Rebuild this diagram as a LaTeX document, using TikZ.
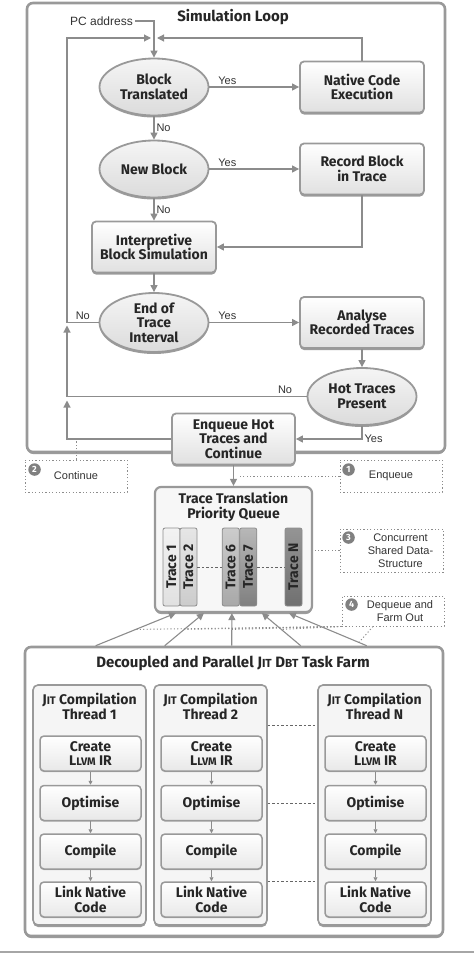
\documentclass[tikz,border=0pt]{standalone}
\usepackage{fontspec}
\usepackage{graphicx}
\setmainfont{Fira Sans}
\newfontfamily\lblfamily{Liberation Sans}
\usetikzlibrary{arrows.meta,shapes.geometric,shadows,calc,positioning}

\newcommand\nodefont{\bfseries\fontsize{14}{14.5}\selectfont}
\newcommand\looptitlefont{\bfseries\fontsize{15}{17}\selectfont}
\newcommand\fsc[1]{\scalebox{0.78}{#1}}

\begin{document}
\begin{tikzpicture}[x=1pt,y=-1pt,
    >={Triangle[length=7pt,width=7pt]},
    flow/.style={->,draw=black!45,line width=1.1pt},
    smallflow/.style={-{Triangle[length=4pt,width=4pt]},draw=black!45,line width=0.8pt},
    note/.style={draw=black!45,dash pattern=on 1.2pt off 2.2pt,line width=0.9pt},
    gapline/.style={draw=black!60,dash pattern=on 2.5pt off 2pt,line width=0.9pt},
    lbl/.style={font=\lblfamily\fontsize{11}{13}\selectfont,text=black!80,inner sep=2pt},
    shadowed/.style={drop shadow={shadow xshift=0pt,shadow yshift=-2pt,opacity=.55,fill=black!70}},
    proc/.style={rectangle,rounded corners=4pt,draw=black!40,line width=1.8pt,top color=white,bottom color=black!12,
        minimum width=124pt,minimum height=51pt,inner sep=2pt,align=center,font=\nodefont,text=black!85,shadowed},
    decide/.style={ellipse,draw=black!40,line width=1.8pt,top color=black!4,bottom color=black!14,
        minimum width=109pt,minimum height=57pt,inner sep=0pt,align=center,font=\nodefont,text=black!85,shadowed},
    loopframe/.style={rectangle,rounded corners=6pt,draw=black!40,line width=2.6pt,fill=white,shadowed},
    queuebox/.style={rectangle,rounded corners=6pt,draw=black!40,line width=2.2pt,fill=black!3,shadowed},
    tracebar/.style={rectangle,rotate=90,rounded corners=2pt,draw=black!45,line width=.8pt,
        minimum width=78pt,minimum height=17pt,inner sep=0pt,font=\nodefont,text=black!85},
    notebox/.style={note,minimum width=102pt,minimum height=32pt,align=center,
        font=\lblfamily\fontsize{11}{13}\selectfont,text=black!80},
    notetext/.style={align=center,font=\lblfamily\fontsize{11}{13}\selectfont,text=black!80,inner sep=0pt},
    badge/.style={circle,fill=black!50,text=white,font=\bfseries\fontsize{9}{9}\selectfont,inner sep=0pt,minimum size=12.5pt},
    thread/.style={rectangle,rounded corners=5pt,draw=black!40,line width=1.6pt,fill=black!4,
        minimum width=113pt,minimum height=240pt,shadowed},
    stage/.style={rectangle,rounded corners=4pt,draw=black!40,line width=1.5pt,top color=white,bottom color=black!9,
        minimum width=101pt,minimum height=35pt,inner sep=1pt,align=center,font=\nodefont,text=black!85,
        drop shadow={shadow xshift=0pt,shadow yshift=-1.2pt,opacity=.4,fill=black!60}}]
    \useasboundingbox (0,0) rectangle (474,953);

    % simulation loop
    \node[loopframe,minimum width=418pt,minimum height=449pt] (simloop) at (236,227.5) {};
    \node[font=\looptitlefont,text=black!85] (simtitle) at (233,17) {Simulation Loop};

    \node[lbl,font=\lblfamily\fontsize{12}{14}\selectfont,anchor=east] (pcaddr) at (135,21) {PC address};
    \node[decide] (translated) at (154,87) {Block\\Translated};
    \node[proc] (native) at (362,87) {Native Code\\Execution};
    \node[decide] (newblock) at (154,169) {New Block};
    \node[proc] (record) at (362,169) {Record Block\\in Trace};
    \node[proc] (interp) at (154,247) {Interpretive\\Block Simulation};
    \node[decide,minimum height=59pt] (endtrace) at (154,322.5) {End of\\Trace\\Interval};
    \node[proc] (analyse) at (362,322.5) {Analyse\\Recorded Traces};
    \node[decide] (hottraces) at (362,396.5) {Hot Traces\\Present};
    \node[proc,minimum width=123pt] (enqueue) at (233.5,439) {Enqueue Hot\\Traces and\\Continue};

    \coordinate (merge) at (154,38);
    \coordinate (rail) at (67,38);
    \coordinate (ret1) at (endtrace.west -| rail);
    \coordinate (ret2) at (hottraces.west -| rail);

    \draw[flow] (pcaddr.east) -| (translated.north);
    \draw[flow] (native.north) |- ([xshift=3pt]merge);
    \draw[flow] (endtrace.west) -- node[lbl,above]{No} (ret1) -- (rail) -- ([xshift=-3pt]merge);
    \draw[flow] (translated) -- node[lbl,above,pos=.2]{Yes} (native);
    \draw[flow] (translated) -- node[lbl,right]{No} (newblock);
    \draw[flow] (newblock) -- node[lbl,above,pos=.2]{Yes} (record);
    \draw[flow] (newblock) -- node[lbl,right]{No} (interp);
    \draw[flow] (record.south) |- (interp.east);
    \draw[flow] (interp) -- (endtrace);
    \draw[flow] (endtrace) -- node[lbl,above,pos=.2]{Yes} (analyse);
    \draw[flow] (analyse) -- (hottraces);
    \draw[flow] (hottraces.west) -- node[lbl,above,pos=.09]{No} (ret2) -- ([yshift=-3pt]ret1);
    \draw[flow] (hottraces.south) |- node[lbl,right,pos=.5]{Yes} (enqueue.east);
    \draw[flow] (enqueue.west) -- (enqueue.west -| rail) -- ([yshift=-4pt]ret2);

    % numbered notes
    \node[notebox] (contbox) at (76,476) {Continue};
    \node[notebox] (enqbox) at (391,476) {Enqueue};
    \node[notebox,minimum width=103pt,minimum height=43pt] (concbox) at (391.5,550.5) {};
    \node[notetext] (conctext) at ([xshift=9pt]concbox.center) {Concurrent\\Shared Data-\\Structure};
    \node[notebox,minimum height=30pt] (deqbox) at (393,611) {};
    \node[notetext] (deqtext) at ([xshift=7pt]deqbox.center) {Dequeue and\\Farm Out};
    \node[badge] (badge2) at ([shift={(10,10)}]contbox.north west) {2};
    \node[badge] (badge1) at ([shift={(9,10)}]enqbox.north west) {1};
    \node[badge] (badge3) at ([shift={(9,9)}]concbox.north west) {3};
    \node[badge] (badge4) at ([shift={(10,9)}]deqbox.north west) {4};

    % priority queue
    \node[queuebox,minimum width=157pt,minimum height=125pt] (queue) at (233.5,549.5) {};
    \node[font=\nodefont,text=black!85,align=center] (queuetitle) at (233.5,507) {Trace Translation\\Priority Queue};
    \foreach \n/\x/\c/\d in {1/171.5/5/12, 2/188.5/10/20, 6/230.75/20/34, 7/248.25/28/50, N/293.5/42/56}
        \node[tracebar,top color=black!\c,bottom color=black!\d] (trace\n) at (\x,567) {Trace \n};
    \draw[gapline] (trace2.south) -- (trace6.north);
    \draw[gapline] (trace7.south) -- (traceN.north);

    \draw[flow] (enqueue) -- (queue);
    \coordinate (enqtap) at (enqueue.south |- enqbox.west);
    \draw[note] (enqbox.west) -- ([xshift=5pt]enqtap);
    \draw[note] (contbox.north) -- (contbox.north |- enqueue.west);
    \draw[note] (concbox.west) -- (queue.east |- concbox.west);

    % task farm
    \node[loopframe,minimum width=418pt,minimum height=289pt] (farm) at (234,791.5) {};
    \node[font=\looptitlefont,text=black!85] (farmtitle) at (233,663) {Decoupled and Parallel J\fsc{IT} D\fsc{BT} Task Farm};

    \foreach \i/\a/\b in {1/72/22, 2/141/50, 3/208/78, 4/277/108, 5/343/135} {
        \coordinate (t\i) at ([xshift=\a pt]farm.north west);
        \coordinate (h\i) at ([xshift=\b pt]queue.south west);
        \draw[flow] (t\i) -- (h\i);
    }
    \foreach \i in {1,...,4}
        \draw[note] (deqbox.south west) -- ($(t\i)!.5!(h\i)$);
    \draw[note] ([xshift=-20pt]deqbox.south) -- ($(t5)!.1!(h5)$);

    \foreach \i/\x/\n in {1/89.5/1, 2/210.5/2, 3/374.5/N} {
        \node[thread] (thread\i) at (\x,805) {};
        \node[font=\nodefont,text=black!85,align=center] (threadtitle\i) at (\x,706.5) {J\fsc{IT} Compilation\\Thread \n};
        \node[stage] (create\i) at (\x+1,753.5) {Create\\L\fsc{LVM} IR};
        \node[stage] (opt\i) at (\x+1,803) {Optimise};
        \node[stage] (comp\i) at (\x+1,851.5) {Compile};
        \node[stage] (link\i) at (\x+1,899.5) {Link Native\\Code};
        \draw[smallflow] (create\i) -- (opt\i);
        \draw[smallflow] (opt\i) -- (comp\i);
        \draw[smallflow] (comp\i) -- (link\i);
    }
    \draw[gapline] ([yshift=80pt]thread2.east) -- ([yshift=80pt]thread3.west);
    \draw[gapline] (thread2.east |- opt2) -- (thread3.west |- opt2);
    \draw[gapline] (thread2.east |- link2.north) -- (thread3.west |- link2.north);

    \fill[black!35] (0,950.5) rectangle (474,953);
\end{tikzpicture}
\end{document}
